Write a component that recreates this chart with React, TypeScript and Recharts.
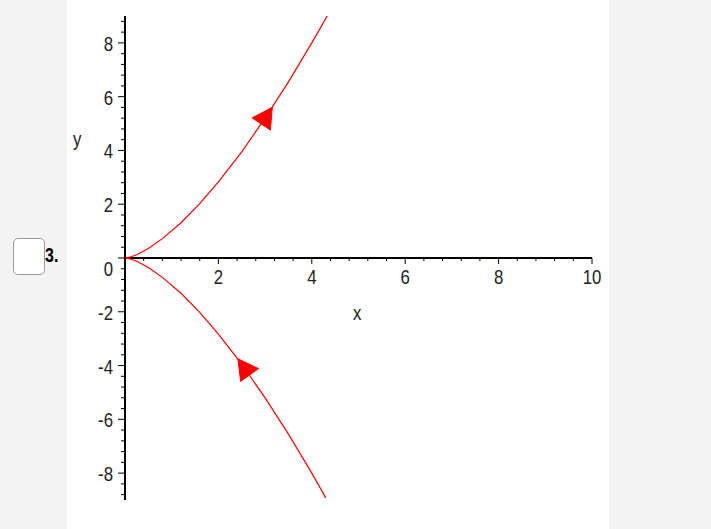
import React from 'react';
import { ScatterChart, Scatter, XAxis, YAxis, ReferenceLine } from 'recharts';

// ---- data ----
const upperX = [0, 0.1, 0.25, 0.5, 0.8, 1.2, 1.6, 2.0, 2.5, 3.0, 3.5, 4.0, 4.33];
const upperY = [0, 0.03, 0.12, 0.35, 0.72, 1.31, 2.02, 2.83, 3.95, 5.2, 6.55, 8.0, 9.0];
const lowerX = [0, 0.1, 0.25, 0.5, 0.8, 1.2, 1.6, 2.0, 2.5, 3.0, 3.5, 4.0, 4.3];
const lowerY = [0, -0.03, -0.12, -0.35, -0.72, -1.31, -2.02, -2.83, -3.95, -5.2, -6.55, -8.0, -8.92];

const arrowX = [3.0, 2.58];
const arrowY = [5.2, -4.14];
const arrowDX = [1, -1];
const arrowDY = [2.6, 2.41];

const xMajorTicks = [0, 2, 4, 6, 8, 10];
const yMajorTicks = [-8, -6, -4, -2, 0, 2, 4, 6, 8];
const X_MIN = 0, X_MAX = 10, Y_MIN = -9, Y_MAX = 9;
const MINOR_STEP = 0.4;

// ---- layout ----
const W = 711, H = 529;
const M_TOP = 16, M_RIGHT = 119, M_LEFT = 65, Y_AXIS_W = 60, X_AXIS_H = 29;
const PLOT_W = W - M_LEFT - Y_AXIS_W - M_RIGHT;
const PLOT_H = H - M_TOP - X_AXIS_H;
const PX_PER_X = PLOT_W / (X_MAX - X_MIN);
const PX_PER_Y = PLOT_H / (Y_MAX - Y_MIN);
const AXIS_SHIFT = PLOT_H * (0 - Y_MIN) / (Y_MAX - Y_MIN);

const FONT = "'Liberation Sans', Arial, sans-serif";
const SQUEEZE = 0.8;
const TEXT_COLOR = '#222222';

const round = (v: number) => Math.round(v * 100) / 100;
const buildTicks = (lo: number, hi: number) => {
  const out: number[] = [];
  const n = Math.round((hi - lo) / MINOR_STEP);
  for (let i = 0; i <= n; i++) out.push(round(lo + i * MINOR_STEP));
  return out;
};
const xTicks = buildTicks(0, 10);
const yTicks = buildTicks(-8.8, 8.8);

const upperData = upperX.map((x, i) => ({ x, y: upperY[i] }));
const lowerData = lowerX.map((x, i) => ({ x, y: lowerY[i] }));
const arrowData = arrowX.map((x, i) => ({ x, y: arrowY[i], dx: arrowDX[i], dy: arrowDY[i] }));

const isMajor = (v: number, majors: number[]) => majors.some((m) => Math.abs(m - v) < 1e-6);

const XTick = (props: any) => {
  const { x, y, payload } = props;
  const v = payload.value;
  const ay = y - AXIS_SHIFT;
  const major = isMajor(v, xMajorTicks);
  return (
    <g>
      <line x1={x} x2={x} y1={ay} y2={ay + (major ? 6 : 3)} stroke="#000" strokeWidth={1} />
      {major && v !== 0 && (
        <text
          transform={`translate(${x},${ay + 26}) scale(${SQUEEZE},1)`}
          textAnchor="middle"
          fontFamily={FONT}
          fontSize={21}
          fill={TEXT_COLOR}
        >
          {v}
        </text>
      )}
    </g>
  );
};

const YTick = (props: any) => {
  const { x, y, payload } = props;
  const v = payload.value;
  const major = isMajor(v, yMajorTicks);
  return (
    <g>
      <line x1={x - (major ? 7 : 4)} x2={x} y1={y} y2={y} stroke="#000" strokeWidth={1} />
      {major && (
        <text
          transform={`translate(${x - 12},${y + (v === 0 ? 18 : 8)}) scale(${SQUEEZE},1)`}
          textAnchor="end"
          fontFamily={FONT}
          fontSize={21}
          fill={TEXT_COLOR}
        >
          {v}
        </text>
      )}
    </g>
  );
};

const EmptyShape = () => <g />;

const ArrowShape = (props: any) => {
  const { cx, cy, payload } = props;
  const sx = payload.dx * PX_PER_X;
  const sy = -payload.dy * PX_PER_Y;
  const len = Math.hypot(sx, sy);
  const ux = sx / len, uy = sy / len;
  const px = -uy, py = ux;
  const tipX = cx + ux * 13, tipY = cy + uy * 13;
  const bx = cx - ux * 7, by = cy - uy * 7;
  const pts = [
    [tipX, tipY],
    [bx + px * 11, by + py * 11],
    [bx - px * 11, by - py * 11],
  ].map((p) => p.join(',')).join(' ');
  return <polygon points={pts} fill="#ff0000" stroke="#ff0000" strokeWidth={1} strokeLinejoin="round" />;
};

const squeezed: React.CSSProperties = { display: 'inline-block', transform: `scaleX(${SQUEEZE})` };

export default function App() {
  return (
    <div style={{ position: 'absolute', left: 0, top: 0, width: W, height: H, background: '#f3f3f3', overflow: 'hidden' }}>
      <div style={{ position: 'absolute', left: 67, top: 0, width: 542, height: H, background: '#ffffff' }} />
      <div
        style={{
          position: 'absolute', left: 13, top: 238, width: 32, height: 37, boxSizing: 'border-box',
          border: '1px solid #9a9a9a', borderRadius: 5, background: '#ffffff',
        }}
      />
      <div style={{ position: 'absolute', left: 45, top: 245, width: 18, fontFamily: FONT, fontWeight: 'bold', fontSize: 20, lineHeight: '20px', color: '#000' }}>
        <span style={{ ...squeezed, transformOrigin: 'left center' }}>3.</span>
      </div>
      <div style={{ position: 'absolute', left: 0, top: 0 }}>
        <ScatterChart width={W} height={H} margin={{ top: M_TOP, right: M_RIGHT, bottom: 0, left: M_LEFT }}>
          <XAxis
            type="number"
            dataKey="x"
            domain={[X_MIN, X_MAX]}
            ticks={xTicks}
            interval={0}
            allowDataOverflow
            height={X_AXIS_H}
            axisLine={false}
            tickLine={false}
            tickSize={0}
            tickMargin={0}
            tick={<XTick />}
          />
          <YAxis
            type="number"
            dataKey="y"
            domain={[Y_MIN, Y_MAX]}
            ticks={yTicks}
            interval={0}
            allowDataOverflow
            width={Y_AXIS_W}
            axisLine={{ stroke: '#000', strokeWidth: 2 }}
            tickLine={false}
            tickSize={0}
            tickMargin={0}
            tick={<YTick />}
          />
          <ReferenceLine y={0} stroke="#000" strokeWidth={2} />
          <Scatter data={upperData} line={{ stroke: '#ff0000', strokeWidth: 1.2 }} lineType="joint" shape={<EmptyShape />} isAnimationActive={false} />
          <Scatter data={lowerData} line={{ stroke: '#ff0000', strokeWidth: 1.2 }} lineType="joint" shape={<EmptyShape />} isAnimationActive={false} />
          <Scatter data={arrowData} shape={<ArrowShape />} isAnimationActive={false} />
        </ScatterChart>
      </div>
      <div style={{ position: 'absolute', left: 67, top: 128, width: 20, textAlign: 'center', fontFamily: FONT, fontSize: 21, lineHeight: '21px', color: TEXT_COLOR }}>
        <span style={squeezed}>y</span>
      </div>
      <div style={{ position: 'absolute', left: 347, top: 302, width: 20, textAlign: 'center', fontFamily: FONT, fontSize: 21, lineHeight: '21px', color: TEXT_COLOR }}>
        <span style={squeezed}>x</span>
      </div>
    </div>
  );
}
